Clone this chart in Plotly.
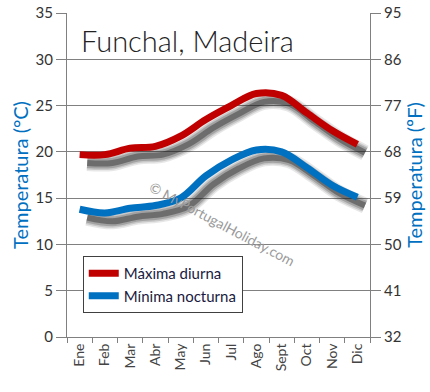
import plotly.graph_objects as go

months = ["Ene", "Feb", "Mar", "Abr", "May", "Jun", "Jul", "Ago", "Sept", "Oct", "Nov", "Dic"]
max_day = [19.7, 19.7, 20.4, 20.6, 21.7, 23.5, 25.0, 26.3, 26.1, 24.2, 22.3, 20.8]
min_night = [13.8, 13.4, 13.9, 14.2, 15.0, 17.4, 19.1, 20.2, 20.0, 18.3, 16.4, 15.1]
c_ticks = [0, 5, 10, 15, 20, 25, 30, 35]
f_ticks = [32, 41, 50, 59, 68, 77, 86, 95]

RED = "#c00000"
BLUE = "#0070c0"
GRID = "#808080"
TICKFONT = dict(family="Lato", size=15, color="#333333")

fig = go.Figure()

# invisible anchors so that base axes are drawn
fig.add_trace(go.Scatter(x=[months[0]], y=[None], xaxis="x", yaxis="y", showlegend=False, hoverinfo="skip"))
fig.add_trace(go.Scatter(x=[months[0]], y=[None], xaxis="x", yaxis="y2", showlegend=False, hoverinfo="skip"))

# shadow (drawn on shifted overlay axes)
for ys in (max_day, min_night):
    for w, op in ((16, 0.10), (13, 0.15), (10, 0.22), (6, 0.4)):
        fig.add_trace(go.Scatter(x=months, y=ys, xaxis="x3", yaxis="y3", mode="lines",
                                 line=dict(color="#202020", width=w, shape="spline", smoothing=1.0),
                                 opacity=op, showlegend=False, hoverinfo="skip"))

fig.add_trace(go.Scatter(x=months, y=max_day, xaxis="x4", yaxis="y4", mode="lines", name="Máxima diurna",
                         line=dict(color=RED, width=7, shape="spline", smoothing=1.0)))
fig.add_trace(go.Scatter(x=months, y=min_night, xaxis="x4", yaxis="y4", mode="lines", name="Mínima nocturna",
                         line=dict(color=BLUE, width=7, shape="spline", smoothing=1.0)))

xr = [-0.5, 11.5]
yr = [0, 35]
dx = 0.30
dy = 0.90

fig.update_layout(
    width=430, height=392,
    margin=dict(l=67, r=60, t=13, b=55, autoexpand=False),
    paper_bgcolor="white", plot_bgcolor="white",
    xaxis=dict(type="category", categoryorder="array", categoryarray=months,
               tickvals=months, ticktext=months, range=xr, tickson="boundaries",
               ticks="outside", ticklen=5, tickcolor=GRID, tickangle=-90,
               showline=True, linecolor=GRID, linewidth=1, showgrid=False, automargin=False,
               tickfont=dict(family="Lato", size=14, color="#444444"), fixedrange=True),
    yaxis=dict(range=yr, tickvals=c_ticks, showgrid=True, gridcolor=GRID, gridwidth=1,
               showline=True, linecolor=GRID, ticks="outside", ticklen=10, tickcolor=GRID,
               tickfont=TICKFONT, zeroline=False, automargin=False, ticklabeloverflow="allow",
               title=dict(text="Temperatura (°C)", font=dict(family="Lato", size=20, color=BLUE), standoff=1)),
    yaxis2=dict(range=[32, 95], tickvals=f_ticks, overlaying="y", side="right", showgrid=False,
                showline=True, linecolor=GRID, ticks="outside", ticklen=10, tickcolor=GRID,
                tickfont=TICKFONT, zeroline=False, automargin=False, ticklabeloverflow="allow",
                title=dict(text="Temperatura (ºF)", font=dict(family="Lato", size=20, color=BLUE), standoff=0)),
    xaxis3=dict(type="category", categoryorder="array", categoryarray=months, overlaying="x",
                range=[xr[0] - dx, xr[1] - dx], visible=False),
    yaxis3=dict(range=[yr[0] + dy, yr[1] + dy], overlaying="y", visible=False),
    xaxis4=dict(type="category", categoryorder="array", categoryarray=months, overlaying="x",
                range=xr, visible=False),
    yaxis4=dict(range=yr, overlaying="y", visible=False),
    legend=dict(x=0.052, y=0.25, xanchor="left", yanchor="top", bgcolor="white",
                bordercolor="#404040", borderwidth=1, itemwidth=30,
                font=dict(family="Lato", size=15, color="#1a1a40"), tracegroupgap=6),
    showlegend=True,
    annotations=[
        dict(text="Funchal, Madeira", xref="paper", yref="paper", x=0.04, y=0.975,
             xanchor="left", yanchor="top", showarrow=False,
             font=dict(family="Lato", size=29, color="#222222", weight=300)),
        dict(text="© MyPortugalHoliday.com", xref="paper", yref="paper", x=0.51, y=0.35,
             xanchor="center", yanchor="middle", showarrow=False, textangle=28,
             font=dict(family="Lato", size=14, color="#9a9a9a")),
    ],
)

fig.write_html("out.html", config={"displayModeBar": False},
               post_script="document.body.style.margin='0';")
